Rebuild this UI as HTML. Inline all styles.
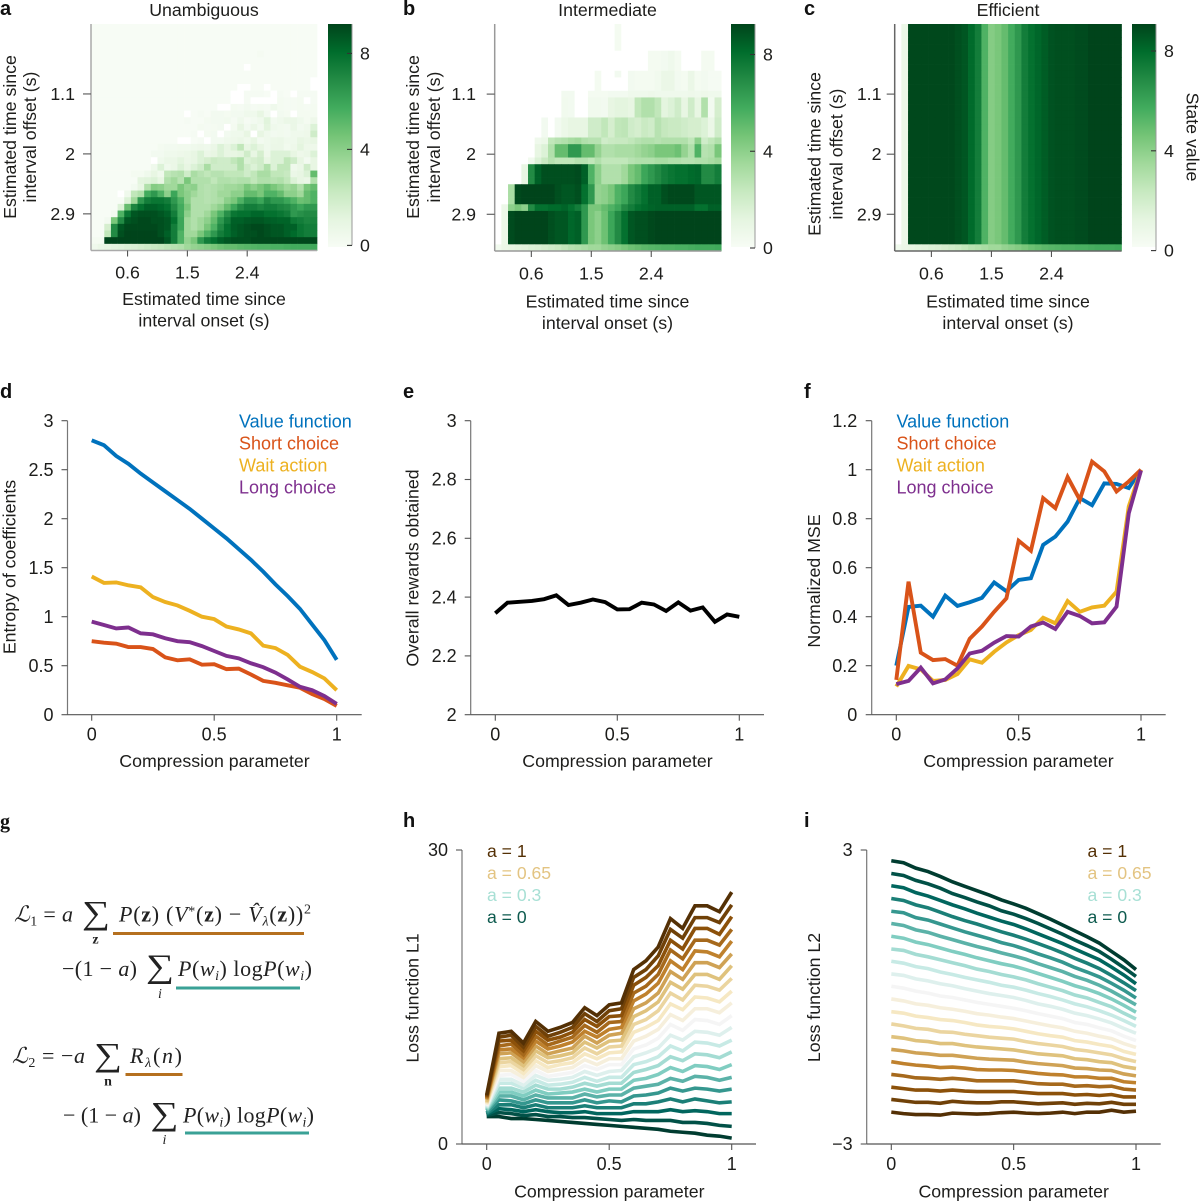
<!DOCTYPE html>
<html lang="en">
<head>
<meta charset="utf-8">
<title>State value maps, entropy, MSE and loss vs compression parameter</title>
<style>
html,body{margin:0;padding:0;background:#fff;}
svg{display:block;}
text{font-family:"Liberation Sans",sans-serif;fill:#1d1d1b;font-size:17.75px;}
.lab{font-weight:700;font-size:20px;fill:#111;}
.m,.m text{font-family:"Liberation Serif","DejaVu Serif",serif;font-size:22px;fill:#222;}
.i{font-style:italic;}
.b{font-weight:700;}
.m text.sum{font-family:"Liberation Serif","DejaVu Serif",serif;font-size:33px;fill:#222;}
.m text.lim{font-family:"Liberation Serif","DejaVu Serif",serif;font-size:14px;fill:#222;}
.leg{font-size:18px;}
.leg2{font-size:17.6px;}
</style>
</head>
<body>
<svg id="fig" xmlns="http://www.w3.org/2000/svg" width="1200" height="1202" viewBox="0 0 1200 1202">
<defs>
<linearGradient id="greens" x1="0" y1="1" x2="0" y2="0">
<stop offset="0" stop-color="#f7fcf5"/><stop offset="0.125" stop-color="#e5f5e0"/><stop offset="0.25" stop-color="#c7e9c0"/><stop offset="0.375" stop-color="#a1d99b"/><stop offset="0.5" stop-color="#74c476"/><stop offset="0.625" stop-color="#41ab5d"/><stop offset="0.75" stop-color="#238b45"/><stop offset="0.875" stop-color="#006d2c"/><stop offset="1" stop-color="#00441b"/>
</linearGradient>
</defs>

<g id="panel-a">
<text class="lab" x="0" y="15">a</text>
<text x="204" y="16" text-anchor="middle">Unambiguous</text>
<text transform="translate(16,137) rotate(-90)" text-anchor="middle">Estimated time since</text>
<text transform="translate(36,137) rotate(-90)" text-anchor="middle">interval offset (s)</text>
<text x="204" y="305" text-anchor="middle">Estimated time since</text>
<text x="204" y="326.5" text-anchor="middle">interval onset (s)</text>
</g>
<g id="panel-b">
<text class="lab" x="403" y="15">b</text>
<text x="607.5" y="16" text-anchor="middle">Intermediate</text>
<text transform="translate(419,137) rotate(-90)" text-anchor="middle">Estimated time since</text>
<text transform="translate(440,137) rotate(-90)" text-anchor="middle">interval offset (s)</text>
<text x="607.5" y="307.5" text-anchor="middle">Estimated time since</text>
<text x="607.5" y="329" text-anchor="middle">interval onset (s)</text>
</g>
<g id="panel-c">
<text class="lab" x="804" y="15">c</text>
<text x="1008" y="16" text-anchor="middle">Efficient</text>
<text transform="translate(820.5,154) rotate(-90)" text-anchor="middle">Estimated time since</text>
<text transform="translate(842.5,154) rotate(-90)" text-anchor="middle">interval offset (s)</text>
<text x="1008" y="307.5" text-anchor="middle">Estimated time since</text>
<text x="1008" y="329" text-anchor="middle">interval onset (s)</text>
<text transform="translate(1186.5,137) rotate(90)" text-anchor="middle">State value</text>
</g>

<g id="panel-d">
<text class="lab" x="0" y="398">d</text>
<text transform="translate(15.5,567) rotate(-90)" text-anchor="middle">Entropy of coefficients</text>
<text x="214.5" y="767" text-anchor="middle">Compression parameter</text>
<text class="leg" x="239" y="427.5" style="fill:#0072bd">Value function</text>
<text class="leg" x="239" y="449.5" style="fill:#d95319">Short choice</text>
<text class="leg" x="239" y="471.5" style="fill:#edb120">Wait action</text>
<text class="leg" x="239" y="493.5" style="fill:#7e2f8e">Long choice</text>
</g>
<g id="panel-e">
<text class="lab" x="403" y="398">e</text>
<text transform="translate(418.5,568) rotate(-90)" text-anchor="middle">Overall rewards obtained</text>
<text x="617.5" y="767" text-anchor="middle">Compression parameter</text>
</g>
<g id="panel-f">
<text class="lab" x="804" y="398">f</text>
<text transform="translate(820,581) rotate(-90)" text-anchor="middle">Normalized MSE</text>
<text x="1018.5" y="767" text-anchor="middle">Compression parameter</text>
<text class="leg" x="896.5" y="427.5" style="fill:#0072bd">Value function</text>
<text class="leg" x="896.5" y="449.5" style="fill:#d95319">Short choice</text>
<text class="leg" x="896.5" y="471.5" style="fill:#edb120">Wait action</text>
<text class="leg" x="896.5" y="493.5" style="fill:#7e2f8e">Long choice</text>
</g>

<g id="panel-g">
<text class="lab" x="0" y="828" style="font-family:'Liberation Serif',serif">g</text>
<g class="m">
<text x="14" y="921.5" textLength="59"><tspan class="i">ℒ</tspan><tspan dy="4" font-size="14">1</tspan><tspan dy="-4"> = </tspan><tspan class="i">a</tspan></text>
<text class="sum" x="82" y="923.5" textLength="28" lengthAdjust="spacingAndGlyphs">∑</text>
<text class="lim b" x="95.5" y="943.5" text-anchor="middle">z</text>
<text x="119" y="921.5" textLength="192"><tspan class="i">P</tspan>(<tspan class="b">z</tspan>) (<tspan class="i">V</tspan><tspan dy="-6" font-size="14">*</tspan><tspan dy="6">(</tspan><tspan class="b">z</tspan>) − <tspan class="i">V̂</tspan><tspan class="i" dy="4" font-size="14">λ</tspan><tspan dy="-4">(</tspan><tspan class="b">z</tspan>))<tspan dy="-8" font-size="14">2</tspan></text>
<rect x="113" y="932" width="191" height="3" fill="#b5701f"/>
<text x="62" y="976" textLength="75">−(1 − <tspan class="i">a</tspan>)</text>
<text class="sum" x="146" y="977" textLength="28" lengthAdjust="spacingAndGlyphs">∑</text>
<text class="lim i" x="160" y="998" text-anchor="middle">i</text>
<text x="178" y="976" textLength="134"><tspan class="i">P</tspan>(<tspan class="i">w</tspan><tspan class="i" dy="4" font-size="14">i</tspan><tspan dy="-4">) log</tspan><tspan class="i">P</tspan>(<tspan class="i">w</tspan><tspan class="i" dy="4" font-size="14">i</tspan><tspan dy="-4">)</tspan></text>
<rect x="176" y="986.5" width="124" height="3" fill="#3aa196"/>
</g>
<g class="m">
<text x="12" y="1063" textLength="73"><tspan class="i">ℒ</tspan><tspan dy="4" font-size="14">2</tspan><tspan dy="-4"> = −</tspan><tspan class="i">a</tspan></text>
<text class="sum" x="94" y="1065.5" textLength="28" lengthAdjust="spacingAndGlyphs">∑</text>
<text class="lim b" x="108" y="1085.5" text-anchor="middle">n</text>
<text x="130" y="1063" textLength="52"><tspan class="i">R</tspan><tspan class="i" dy="4" font-size="14">λ</tspan><tspan dy="-4">(</tspan><tspan class="i">n</tspan>)</text>
<rect x="125.5" y="1073" width="57" height="3" fill="#b5701f"/>
<text x="63" y="1122.5" textLength="78">− (1 − <tspan class="i">a</tspan>)</text>
<text class="sum" x="150.5" y="1124.5" textLength="28" lengthAdjust="spacingAndGlyphs">∑</text>
<text class="lim i" x="164.5" y="1144" text-anchor="middle">i</text>
<text x="183" y="1122.5" textLength="131"><tspan class="i">P</tspan>(<tspan class="i">w</tspan><tspan class="i" dy="4" font-size="14">i</tspan><tspan dy="-4">) log</tspan><tspan class="i">P</tspan>(<tspan class="i">w</tspan><tspan class="i" dy="4" font-size="14">i</tspan><tspan dy="-4">)</tspan></text>
<rect x="185" y="1131.5" width="124" height="3" fill="#3aa196"/>
</g>
</g>

<g id="panel-h">
<text class="lab" x="403" y="827">h</text>
<text transform="translate(418.5,998) rotate(-90)" text-anchor="middle">Loss function L1</text>
<text x="609.3" y="1197.5" text-anchor="middle">Compression parameter</text>
<text class="leg2" x="487" y="857" style="fill:#543005">a = 1</text>
<text class="leg2" x="487" y="879" style="fill:#e3c482">a = 0.65</text>
<text class="leg2" x="487" y="901" style="fill:#a8e0d5">a = 0.3</text>
<text class="leg2" x="487" y="923" style="fill:#0d5a4e">a = 0</text>
</g>
<g id="panel-i">
<text class="lab" x="804" y="827">i</text>
<text transform="translate(820,997.5) rotate(-90)" text-anchor="middle">Loss function L2</text>
<text x="1013.7" y="1197.5" text-anchor="middle">Compression parameter</text>
<text class="leg2" x="1087.5" y="857" style="fill:#543005">a = 1</text>
<text class="leg2" x="1087.5" y="879" style="fill:#e3c482">a = 0.65</text>
<text class="leg2" x="1087.5" y="901" style="fill:#a8e0d5">a = 0.3</text>
<text class="leg2" x="1087.5" y="923" style="fill:#0d5a4e">a = 0</text>
</g>
</svg>

<script>
/* ===== Data: heatmaps. Rows are right-aligned: a short row is padded on the left with the panel background. -1 = white cell. ===== */
const heatOnsetTicks = [0.6, 1.5, 2.4];
const heatOnsetLabels = ['0.6', '1.5', '2.4'];
const heatOffsetTicks = [1.1, 2, 2.9];
const heatOffsetLabels = ['1.1', '2', '2.9'];
const colorbarTicks = [8, 4, 0];
const colorbarLabels = ['8', '4', '0'];

const heatUnambiguous = [
[],[],[],[],
[.15,0,0,0,0,0,0,0,0],
[],
[-1,0,0,0,0,0,0,0,0,0,0],
[],
[-1],
[-1,-1,0,0,-1,0,0,0,0,0,0,-1],
[-1,-1,.1,.1,.1,0,-1,.1,0,-1,.1,.1,.1],
[-1,-1,.1,-1,-1,-1,-1,.2,.1,.1,.2,-1,.1],
[-1,-1,.2,.1,.3,.1,.2,.1,.5,.2,.1,.1,.2,.1,.2],
[-1,0,.1,0,.3,.3,.2,.3,.3,.5,.5,1,.3,-1,.3,.2,-1,.2,.2,.2],
[.1,0,0,.2,.3,.3,.4,.1,.5,.1,.3,.5,1.3,.3,.5,.8,.8,.5,.2,.6],
[.2,.1,.2,.3,-1,.2,1,.3,.8,.3,1.2,.5,.4,.3,.8,.3,.5,1.5],
[.1,-1,.2,.3,-1,.3,.5,.5,1,-1,1,.5,.3,.4,.3,.5,.5,.6,2],
[-1,-1,0,.1,-1,.3,.3,.5,.6,.8,.5,1,.3,.5,.7,.8,.5,.5,1,.8,1],
[.2,.3,.3,.4,.4,.5,.6,.5,.8,1.5,1,1.5,2.5,1,1.5,1,.5,.8,.8,.4,.6,1.2,.6,.6],
[.3,.3,.5,.5,.6,.7,1,1.5,.8,1,1.5,1,1,1.2,2,1,1.8,.6,1.5,1.5,1.5,1,.6,.8,1.5],
[-1,.5,.8,.8,1.2,.8,1,1.5,1.8,2.2,2,2,2.5,3,1.5,1.8,2,1,1.5,1.5,2.5,2,1,.3,1],
[.5,1.5,.5,.8,1.5,1,1.5,2,3.2,2,2,2,2,3,2,1.5,2,3,1.5,2.5,2.5,.5,.8,2,1],
[.2,.2,.5,1,.5,2.5,2.8,3,2,3.2,2.8,2.5,2.8,2.8,2.5,2.5,2.5,2,2.5,3.2,3.2,2.5,2.5,2.3,.8,1,1.5,5],
[1.2,1.3,1.5,1,3,3.5,2.8,4.5,3,3,3,2.5,3,3,2.8,3,3,2.5,3,3,2.8,3,2.5,1.5,1,.8,3],
[.3,1,3,4.2,4,3.5,3.5,4.5,3.8,4,3,2.8,3,3.2,3.5,3.5,3.7,4.5,4,4.5,5,4.5,4,3.5,3.8,3,4.5,5],
[-1,.5,2.5,3,5.8,6.5,5.5,4,6,4.5,4,3.5,3,2.8,3,3.5,3.5,4,4,5,5,4.5,5.5,5.5,5,4,4,3.5,5,5.5],
[1.5,3.5,6.5,7.5,7.8,7.8,7.5,6.5,5.5,4,3,3,2.8,3,3.2,4,4.5,5.5,6.5,6.5,6,7,6.5,6.5,6,5.5,4.8,5,5.5],
[1.5,5,7.2,8,8.5,8.5,8.3,8,7,5.8,4.5,3,3,3,3.5,4,5,6,7,7.5,7.5,7.2,7.5,7.5,7.2,7,6.5,6,6.5,6.5],
[.3,5.5,7.8,8.8,9,9,9,8.8,8.5,7.5,5.8,4,3,3,3.5,4.5,5.5,6.8,7.8,8,8,8.3,8.3,8,8,7.8,7.5,6.5,6.8,7,7],
[.3,4.5,7,8.8,9,9.2,9.2,9,9,8.8,8,6,3.5,3,3.5,4,5,6.5,7.5,8.5,8.5,8.7,8.8,8.8,8.6,8.5,8.4,8.4,7.7,7.5,7.2,7.3],
[1.8,7,8.8,9.2,9.2,9.2,9.2,9.2,9,8.8,7.5,6,3.5,3,3.5,4.5,5.5,7,8,8.6,8.8,9,9.2,9.2,9,8.8,8.8,8.5,8.5,7.8,7.5,7.5],
[2.5,7,9,9.3,9.3,9.3,9.3,9.3,9,8.5,7.5,5.5,3.5,3.5,4.5,5.5,6.5,7.5,8,8.5,8.8,9,9,9.2,9,8.8,8.8,8.5,8.2,7.8,7.5,7.5],
[.2,.2,9.3,9.3,9.3,9.3,9.3,9.3,9.3,9.3,9.3,8.8,7.5,5.5,3.8,4.5,6.5,7.5,8,8.5,8.8,9,9,9,9.2,9.2,9.2,9.2,9.2,9.2,9.2,9.2,9.2,9.2],
[.5,.8,1,1.2,1.3,1.5,1.6,1.8,2,2.2,2.4,2.6,2.8,3,3.5,3.8,4,4.2,4.5,4.8,5,5,5.2,5.3,5.4,5.5,5.5,5.6,5.6,5.7,5.8,5.8,5.8,5.9]
];

const intermBand0 = [.2,-1,-1,-1,-1,-1,-1,-1,-1,-1,-1,-1,-1,-1,-1,-1];
const intermBand1 = [.2,.2,.3,.5,.2,-1,-1,-1,.2,.2,-1];
const intermRow7 = [.2,-1,-1,.3,-1,.3,.2,.2,.2,.4,.8,.8,.3,.2,.8,.2,.3,.1,.1];
const intermBand2 = [.2,-1,-1,-1,-1,.3,.2,.2,.2,.4,.8,.8,.3,.2,.8,.2,.3,.1,.1];
const intermRow10 = [.3,.3,-1,-1,.2,.2,.2,.3,.3,.3,.5,.5,.5,.6,.5,.5,.5,.5,.5,.6,.5,.6,.5,.5];
const intermBand3 = [.4,.3,-1,-1,.4,.4,.3,1,1.2,1.2,1,2.5,3,3,2.5,1.2,1.5,2,1,2,1,3,.3,1.8];
const intermBand4 = [.3,-1,.3,.7,1,1,1,2,2,2.5,1.8,2.5,2.6,2,1.8,2.2,2,2.8,2.4,2.2,2.2,2,1.8,1.8,1.5,.8,2];
const intermRow17 = [.5,.7,2.5,2.8,3,3.3,3.5,3,2.8,2.8,2,2.2,2.3,2.3,2.5,2.8,3,3,2.8,3,3,3,3,2.5,4,2,2.5,3];
const intermBand5 = [1,1.5,3,5,5,6.5,6.5,5,5,3.8,3,3,3.2,3.2,3.2,3.5,3.8,4,4.5,4.5,4.5,4.8,3.8,3,5.5,2.8,3,4.5];
const intermRow20 = [.4,1.5,2.2,2.8,2.5,2.5,2.5,2.8,2.8,2.5,3,2.5,2.5,2.5,2.5,2.8,3,3,3,3.2,3.2,3,3,2.8,2.8,3,3,3.2,3.5];
const intermBand6 = [1,7,8.5,9,9,9,9,9,9.1,8.5,5.5,4,3,3,3,3.5,4.5,5,6,6.5,7,7.5,7.8,8,8,8.2,8.3,7,7,7.5];
const intermBand7 = [3.2,9.2,9.3,9.3,9.3,9.3,9.3,9,8.8,8.8,9,8,6.5,3.8,4,4.5,5.5,6,7,7.5,8,8.5,8.5,9,9.2,9.2,9.2,9.2,8.8,8.8,8.8,8.8];
const intermRow27 = [.7,4,4.5,4,7,8,8,8.2,8.2,8.4,8,7.5,6.5,4.5,4.5,5,5.5,6,7,7.5,8,8.2,8.4,8.5,8.5,8.5,8.5,8.5,8.5,8,8,8.5,8.5];
const intermBand8 = [.7,9.1,9.3,9.3,9.3,9.3,9.3,9,8.8,8.8,8.3,8.5,6.5,4.5,4,4.8,6,7,8,8.8,9,9,9.2,9.3,9.3,9.3,9.3,9.3,9.3,9.3,9.3,9.3,9.3];
const intermRow33 = [.4,.8,1,1.2,1.3,1.5,1.6,1.8,2,2.2,2.5,2.8,3,3.2,3.5,3.5,3.8,4,4.2,4.5,4.8,5,5.2,5.3,5.4,5.5,5.5,5.6,5.6,5.7,5.8,5.8,5.8,5.9];
const heatIntermediate = [intermBand0,intermBand0,intermBand0,intermBand0,intermBand1,intermBand1,intermBand1,intermRow7,intermBand2,intermBand2,intermRow10,intermBand3,intermBand3,intermBand3,intermBand4,intermBand4,intermBand4,intermRow17,intermBand5,intermBand5,intermRow20,intermBand6,intermBand6,intermBand6,intermBand7,intermBand7,intermBand7,intermRow27,intermBand8,intermBand8,intermBand8,intermBand8,intermBand8,intermRow33];

const efficientRow = [-1,.7,9.2,9.2,9.2,9.2,9.2,9.2,9.2,9,8.8,8.2,7.5,5.5,4.2,4.5,5,5.8,6.5,7.5,8,8.3,8.6,8.9,9,9,9,9.1,9.1,9.3,9.3,9.3,9.3,9.3];
const efficientBottomRow = [.5,.8,1,1.2,1.3,1.5,1.6,1.8,2,2.2,2.5,2.8,3,3.2,3.5,3.5,3.8,4,4.2,4.5,4.8,5,5.2,5.3,5.4,5.5,5.5,5.6,5.6,5.7,5.8,5.8,5.8,5.9];
const heatEfficient = [efficientRow,efficientRow,efficientRow,efficientRow,efficientRow,efficientRow,efficientRow,efficientRow,efficientRow,efficientRow,efficientRow,efficientRow,efficientRow,efficientRow,efficientRow,efficientRow,efficientRow,efficientRow,efficientRow,efficientRow,efficientRow,efficientRow,efficientRow,efficientRow,efficientRow,efficientRow,efficientRow,efficientRow,efficientRow,efficientRow,efficientRow,efficientRow,efficientRow,efficientBottomRow];

/* ===== Data: line charts ===== */
const compressionValues = [0,.05,.1,.15,.2,.25,.3,.35,.4,.45,.5,.55,.6,.65,.7,.75,.8,.85,.9,.95,1];
const compressionTicks = [0, 0.5, 1];
const compressionLabels = ['0', '0.5', '1'];

const entropyTicks = [0, .5, 1, 1.5, 2, 2.5, 3];
const entropyLabels = ['0', '0.5', '1', '1.5', '2', '2.5', '3'];
const entropyValue = [2.80,2.75,2.64,2.56,2.46,2.37,2.28,2.19,2.10,2.00,1.90,1.80,1.69,1.58,1.46,1.33,1.21,1.08,.92,.76,.56];
const entropyShort = [.75,.735,.725,.69,.69,.67,.585,.555,.565,.51,.515,.465,.47,.41,.345,.325,.30,.275,.21,.16,.09];
const entropyWait = [1.41,1.345,1.35,1.32,1.30,1.20,1.15,1.115,1.06,1.0,.975,.90,.87,.83,.705,.68,.61,.49,.435,.37,.25];
const entropyLong = [.95,.915,.88,.89,.83,.82,.78,.75,.74,.70,.65,.60,.575,.525,.485,.43,.36,.285,.25,.19,.11];

const rewardTicks = [2, 2.2, 2.4, 2.6, 2.8, 3];
const rewardLabels = ['2', '2.2', '2.4', '2.6', '2.8', '3'];
const rewardValues = [2.345,2.381,2.384,2.387,2.393,2.406,2.373,2.381,2.392,2.383,2.358,2.359,2.381,2.375,2.353,2.382,2.354,2.365,2.316,2.341,2.333];

const mseTicks = [0, .2, .4, .6, .8, 1, 1.2];
const mseLabels = ['0', '0.2', '0.4', '0.6', '0.8', '1', '1.2'];
const mseValue = [.20,.44,.445,.40,.486,.444,.459,.477,.54,.504,.55,.557,.693,.727,.788,.884,.855,.944,.942,.925,1];
const mseShort = [.142,.543,.253,.223,.227,.20,.31,.36,.42,.475,.71,.669,.884,.843,.97,.877,1.033,.993,.911,.952,1];
const mseWait = [.115,.199,.185,.138,.142,.166,.226,.212,.257,.295,.325,.346,.396,.373,.464,.42,.438,.445,.502,.85,1];
const mseLong = [.125,.138,.192,.128,.144,.189,.25,.261,.294,.321,.319,.36,.376,.35,.42,.403,.373,.377,.441,.822,.997];

/* Loss values: one row per compression value, each row listing a = 0, 0.05, ... 1 */
const lossL1Ticks = [0, 30];
const lossL1Labels = ['0', '30'];
const lossL1ByCompression = [
[2.8,2.9,3.0,3.1,3.2,3.4,3.5,3.6,3.7,3.8,3.9,4.0,4.1,4.2,4.3,4.5,4.6,4.7,4.8,4.9,5.0],
[2.8,3.2,3.6,4.0,4.5,4.9,5.3,5.7,6.2,6.6,7.0,7.5,7.9,8.3,8.7,9.2,9.6,10.0,10.5,10.9,11.3],
[2.6,3.1,3.5,4.0,4.4,4.9,5.3,5.7,6.2,6.6,7.1,7.5,8.0,8.4,8.8,9.3,9.7,10.2,10.6,11.1,11.5],
[2.6,2.9,3.3,3.7,4.1,4.5,4.9,5.3,5.7,6.0,6.4,6.8,7.2,7.6,8.0,8.4,8.8,9.1,9.5,9.9,10.3],
[2.5,3.0,3.5,4.0,4.5,5.0,5.5,6.0,6.5,7.0,7.5,8.0,8.5,9.0,9.5,10.0,10.5,11.0,11.5,12.0,12.5],
[2.4,2.8,3.3,3.7,4.2,4.7,5.1,5.6,6.0,6.5,6.9,7.4,7.8,8.3,8.8,9.2,9.7,10.1,10.6,11.0,11.5],
[2.3,2.8,3.2,3.7,4.2,4.7,5.2,5.6,6.1,6.6,7.1,7.6,8.1,8.5,9.0,9.5,10.0,10.5,10.9,11.4,11.9],
[2.2,2.7,3.2,3.7,4.2,4.7,5.3,5.8,6.3,6.8,7.3,7.8,8.3,8.8,9.3,9.8,10.4,10.9,11.4,11.9,12.4],
[2.1,2.7,3.3,3.9,4.5,5.1,5.6,6.2,6.8,7.4,8.0,8.6,9.2,9.8,10.4,11.0,11.5,12.1,12.7,13.3,13.9],
[2.0,2.6,3.1,3.7,4.2,4.8,5.3,5.9,6.4,7.0,7.6,8.1,8.7,9.2,9.8,10.3,10.9,11.4,12.0,12.5,13.1],
[1.9,2.5,3.1,3.7,4.4,5.0,5.6,6.2,6.8,7.4,8.1,8.7,9.3,9.9,10.5,11.1,11.7,12.4,13.0,13.6,14.2],
[1.8,2.4,3.1,3.7,4.3,5.0,5.6,6.2,6.8,7.5,8.1,8.7,9.4,10.0,10.6,11.3,11.9,12.5,13.1,13.8,14.4],
[1.7,2.5,3.3,4.1,4.9,5.7,6.5,7.3,8.1,8.9,9.7,10.5,11.4,12.2,13.0,13.8,14.6,15.4,16.2,17.0,17.8],
[1.6,2.4,3.3,4.1,5.0,5.9,6.7,7.6,8.4,9.3,10.1,11.0,11.9,12.7,13.6,14.4,15.3,16.1,17.0,17.8,18.7],
[1.5,2.4,3.3,4.3,5.2,6.1,7.1,8.0,8.9,9.8,10.8,11.7,12.6,13.6,14.5,15.4,16.4,17.3,18.2,19.2,20.1],
[1.3,2.4,3.5,4.6,5.7,6.7,7.8,8.9,10.0,11.1,12.2,13.2,14.3,15.4,16.5,17.6,18.7,19.8,20.8,21.9,23.0],
[1.2,2.2,3.3,4.3,5.4,6.4,7.4,8.5,9.5,10.6,11.6,12.6,13.7,14.7,15.8,16.8,17.8,18.9,19.9,21.0,22.0],
[1.1,2.2,3.4,4.6,5.7,6.9,8.0,9.2,10.4,11.5,12.7,13.8,15.0,16.2,17.3,18.5,19.7,20.8,22.0,23.1,24.3],
[.9,2.1,3.3,4.4,5.6,6.8,7.9,9.1,10.3,11.4,12.6,13.8,14.9,16.1,17.3,18.5,19.6,20.8,22.0,23.1,24.3],
[.8,1.9,3.1,4.2,5.4,6.5,7.6,8.8,10.0,11.1,12.2,13.4,14.5,15.7,16.8,18.0,19.1,20.3,21.4,22.6,23.7],
[.6,1.8,3.1,4.3,5.6,6.8,8.1,9.4,10.6,11.9,13.1,14.4,15.6,16.9,18.2,19.4,20.7,21.9,23.2,24.4,25.7]
];

const lossL2Ticks = [-3, 3];
const lossL2Labels = ['−3', '3'];
const lossL2ByCompression = [
[2.78,2.52,2.27,2.01,1.75,1.50,1.24,.98,.73,.47,.22,-.04,-.30,-.55,-.81,-1.07,-1.32,-1.58,-1.84,-2.09,-2.35],
[2.74,2.48,2.23,1.97,1.72,1.46,1.20,.95,.69,.44,.18,-.08,-.33,-.59,-.84,-1.10,-1.36,-1.61,-1.87,-2.12,-2.38],
[2.63,2.38,2.13,1.88,1.62,1.37,1.12,.87,.62,.37,.12,-.14,-.39,-.64,-.89,-1.14,-1.39,-1.65,-1.90,-2.15,-2.40],
[2.56,2.31,2.06,1.82,1.57,1.32,1.07,.82,.58,.33,.08,-.17,-.42,-.66,-.91,-1.16,-1.41,-1.66,-1.90,-2.15,-2.40],
[2.46,2.22,1.97,1.73,1.49,1.24,1.00,.76,.51,.27,.02,-.22,-.46,-.71,-.95,-1.19,-1.44,-1.68,-1.92,-2.17,-2.41],
[2.35,2.11,1.88,1.64,1.41,1.17,.93,.70,.46,.23,-.01,-.25,-.48,-.72,-.95,-1.19,-1.43,-1.66,-1.90,-2.13,-2.37],
[2.26,2.03,1.80,1.56,1.33,1.10,.87,.64,.40,.17,-.06,-.29,-.52,-.76,-.99,-1.22,-1.45,-1.68,-1.92,-2.15,-2.38],
[2.17,1.94,1.71,1.49,1.26,1.03,.80,.57,.35,.12,-.11,-.34,-.57,-.79,-1.02,-1.25,-1.48,-1.71,-1.93,-2.16,-2.39],
[2.08,1.86,1.63,1.41,1.19,.97,.74,.52,.30,.07,-.15,-.37,-.60,-.82,-1.04,-1.27,-1.49,-1.71,-1.93,-2.16,-2.38],
[1.98,1.76,1.55,1.33,1.11,.90,.68,.46,.24,.03,-.19,-.41,-.62,-.84,-1.06,-1.28,-1.49,-1.71,-1.93,-2.14,-2.36],
[1.90,1.69,1.48,1.26,1.05,.84,.63,.41,.20,-.01,-.23,-.44,-.65,-.86,-1.08,-1.29,-1.50,-1.71,-1.93,-2.14,-2.35],
[1.81,1.60,1.39,1.18,.97,.77,.56,.35,.14,-.07,-.28,-.49,-.70,-.91,-1.12,-1.33,-1.53,-1.74,-1.95,-2.16,-2.37],
[1.70,1.50,1.29,1.09,.88,.68,.48,.27,.07,-.14,-.34,-.54,-.75,-.95,-1.16,-1.36,-1.56,-1.77,-1.97,-2.18,-2.38],
[1.59,1.39,1.19,1.00,.80,.60,.40,.20,.01,-.19,-.39,-.59,-.79,-.98,-1.18,-1.38,-1.58,-1.78,-1.97,-2.17,-2.37],
[1.47,1.28,1.09,.90,.71,.52,.32,.13,-.06,-.25,-.44,-.63,-.82,-1.01,-1.20,-1.40,-1.59,-1.78,-1.97,-2.16,-2.35],
[1.35,1.16,.98,.79,.60,.42,.23,.04,-.14,-.33,-.52,-.70,-.89,-1.07,-1.26,-1.45,-1.63,-1.82,-2.00,-2.19,-2.38],
[1.23,1.05,.87,.69,.51,.34,.16,-.02,-.20,-.38,-.56,-.74,-.92,-1.10,-1.28,-1.46,-1.63,-1.81,-1.99,-2.17,-2.35],
[1.10,.93,.76,.58,.41,.24,.07,-.11,-.28,-.45,-.63,-.80,-.97,-1.14,-1.32,-1.49,-1.66,-1.83,-2.01,-2.18,-2.35],
[.93,.77,.61,.44,.28,.12,-.04,-.20,-.37,-.53,-.69,-.85,-1.01,-1.18,-1.34,-1.50,-1.66,-1.82,-1.99,-2.15,-2.31],
[.76,.60,.45,.29,.14,-.02,-.17,-.33,-.48,-.64,-.80,-.95,-1.11,-1.26,-1.42,-1.57,-1.73,-1.88,-2.04,-2.19,-2.35],
[.56,.42,.27,.13,-.02,-.16,-.31,-.45,-.60,-.74,-.89,-1.03,-1.17,-1.32,-1.46,-1.61,-1.75,-1.90,-2.04,-2.19,-2.33]
];
const lossWeights = [0,.05,.1,.15,.2,.25,.3,.35,.4,.45,.5,.55,.6,.65,.7,.75,.8,.85,.9,.95,1];

/* ===== Rendering ===== */
const NS = 'http://www.w3.org/2000/svg';
const GREENS = ['#f7fcf5','#e5f5e0','#c7e9c0','#a1d99b','#74c476','#41ab5d','#238b45','#006d2c','#00441b'];
const BRBG = ['#003c30','#01665e','#35978f','#80cdc1','#c7eae5','#f5f5f5','#f6e8c3','#dfc27d','#bf812d','#8c510a','#543005'];
const HEAT_MAX = 9.3;
const GRID = 34;

function hexRgb(h){return [parseInt(h.slice(1,3),16),parseInt(h.slice(3,5),16),parseInt(h.slice(5,7),16)];}
function ramp(stops,t){
  const p=Math.max(0,Math.min(1,t))*(stops.length-1);
  const i=Math.min(Math.floor(p),stops.length-2);
  const f=p-i;
  const a=hexRgb(stops[i]);
  const b=hexRgb(stops[i+1]);
  return 'rgb('+a.map((v,k)=>Math.round(v+(b[k]-v)*f)).join(',')+')';
}
function greenColor(v){return v<0?'#ffffff':ramp(GREENS,v/HEAT_MAX);}

function mark(tag,parent,attrs,name){
  const el=document.createElementNS(NS,tag);
  for(const k in attrs){el.setAttribute(k,attrs[k]);}
  
  
  parent.appendChild(el);
  return el;
}
function label(parent,x,y,text,anchor,size,name){
  const el=mark('text',parent,{x:x,y:y,'text-anchor':anchor,style:'font-size:'+size+'px'},name);
  el.textContent=text;
  return el;
}

function drawHeatPanel(id,cfg){
  const g=document.getElementById(id);
  const cw=cfg.w/GRID, ch=cfg.h/GRID;
  const xOf=v=>cfg.x+(v*10-0.5)*cw;
  const yOf=v=>cfg.y+(v*10-0.5)*ch;
  cfg.data.forEach((row,r)=>{
    const pad=GRID-row.length;
    for(let c=0;c<GRID;c++){
      const v=c<pad?cfg.bg:row[c-pad];
      mark('rect',g,{x:(cfg.x+c*cw).toFixed(2),y:(cfg.y+r*ch).toFixed(2),width:(cw+.35).toFixed(2),height:(ch+.35).toFixed(2),fill:greenColor(v)},'heatmap-cell');
    }
  });
  const bottom=cfg.y+cfg.h;
  mark('line',g,{x1:cfg.x,y1:cfg.y,x2:cfg.x,y2:bottom,stroke:cfg.spine,'stroke-width':1.5},'y-axis-line');
  mark('line',g,{x1:cfg.x,y1:bottom,x2:cfg.x+cfg.w,y2:bottom,stroke:cfg.spine,'stroke-width':1.5},'x-axis-line');
  heatOnsetTicks.forEach((v,i)=>{
    mark('line',g,{x1:xOf(v),y1:bottom,x2:xOf(v),y2:bottom+6,stroke:'#555','stroke-width':1.1},'x-tick');
    label(g,xOf(v),cfg.xLabelY,heatOnsetLabels[i],'middle',17.75,'x-tick-label');
  });
  heatOffsetTicks.forEach((v,i)=>{
    mark('line',g,{x1:cfg.x-8,y1:yOf(v),x2:cfg.x,y2:yOf(v),stroke:'#555','stroke-width':1.1},'y-tick');
    label(g,cfg.yLabelX,yOf(v)+6,heatOffsetLabels[i],'end',17.75,'y-tick-label');
  });
  mark('rect',g,{x:cfg.cbX,y:24,width:24,height:223,fill:'url(#greens)'},'colorbar');
  mark('line',g,{x1:cfg.cbX+24,y1:24,x2:cfg.cbX+24,y2:cfg.cbZero,stroke:'#999','stroke-width':1},'colorbar-edge');
  const unit=(cfg.cbZero-cfg.cbEight)/8;
  colorbarTicks.forEach((v,i)=>{
    const y=cfg.cbZero-v*unit;
    mark('line',g,{x1:cfg.cbX+19,y1:y,x2:cfg.cbX+24,y2:y,stroke:'#333','stroke-width':1.1},'colorbar-tick');
    label(g,cfg.cbX+32,y+6,colorbarLabels[i],'start',17.75,'colorbar-tick-label');
  });
}

drawHeatPanel('panel-a',{x:91,y:24,w:226,h:226.5,data:heatUnambiguous,bg:0,spine:'#aaa',xLabelY:278.5,yLabelX:75,cbX:328,cbZero:245.4,cbEight:53.4});
drawHeatPanel('panel-b',{x:494.7,y:24,w:226.5,h:227,data:heatIntermediate,bg:-1,spine:'#999',xLabelY:279.5,yLabelX:476,cbX:731,cbZero:248,cbEight:54.5});
drawHeatPanel('panel-c',{x:894.7,y:24,w:226.8,h:227,data:heatEfficient,bg:-1,spine:'#666',xLabelY:279.5,yLabelX:881.5,cbX:1132,cbZero:250.6,cbEight:51});

function makeAxes(id,cfg){
  const g=document.getElementById(id);
  const xOf=v=>cfg.x0+v*(cfg.x1-cfg.x0);
  const yOf=v=>cfg.yBottom-(v-cfg.yMin)/(cfg.yMax-cfg.yMin)*(cfg.yBottom-cfg.yTop);
  mark('line',g,{x1:cfg.axisX,y1:cfg.yTop,x2:cfg.axisX,y2:cfg.yBottom,stroke:'#777','stroke-width':1.2},'y-axis-line');
  mark('line',g,{x1:cfg.axisX,y1:cfg.yBottom,x2:cfg.axisEnd,y2:cfg.yBottom,stroke:'#555','stroke-width':1.2},'x-axis-line');
  compressionTicks.forEach((v,i)=>{
    mark('line',g,{x1:xOf(v),y1:cfg.yBottom,x2:xOf(v),y2:cfg.yBottom+6,stroke:'#555','stroke-width':1.1},'x-tick');
    label(g,xOf(v),cfg.yBottom+26,compressionLabels[i],'middle',18,'x-tick-label');
  });
  cfg.ticks.forEach((v,i)=>{
    mark('line',g,{x1:cfg.axisX-6,y1:yOf(v),x2:cfg.axisX,y2:yOf(v),stroke:'#555','stroke-width':1.1},'y-tick');
    label(g,cfg.labelX,yOf(v)+6.2,cfg.labels[i],'end',18,'y-tick-label');
  });
  return {g:g,xOf:xOf,yOf:yOf};
}
function drawSeries(ax,values,color,width,name){
  const pts=compressionValues.map((x,i)=>ax.xOf(x).toFixed(2)+','+ax.yOf(values[i]).toFixed(2)).join(' ');
  mark('polyline',ax.g,{points:pts,fill:'none',stroke:color,'stroke-width':width,'stroke-linejoin':'miter','stroke-miterlimit':6},name);
}

const axD=makeAxes('panel-d',{x0:91.7,x1:336.7,axisX:67.5,axisEnd:361.7,yTop:420.7,yBottom:714.7,yMin:0,yMax:3,ticks:entropyTicks,labels:entropyLabels,labelX:53.5});
drawSeries(axD,entropyValue,'#0072bd',3.9,'line-value-function');
drawSeries(axD,entropyWait,'#edb120',3.9,'line-wait-action');
drawSeries(axD,entropyShort,'#d95319',3.9,'line-short-choice');
drawSeries(axD,entropyLong,'#7e2f8e',3.9,'line-long-choice');

const axE=makeAxes('panel-e',{x0:495.3,x1:739.3,axisX:470.7,axisEnd:764,yTop:420.7,yBottom:714.7,yMin:2,yMax:3,ticks:rewardTicks,labels:rewardLabels,labelX:456.7});
drawSeries(axE,rewardValues,'#000',3.9,'line-overall-rewards');

const axF=makeAxes('panel-f',{x0:896.3,x1:1141,axisX:871.7,axisEnd:1165.7,yTop:420.7,yBottom:714.7,yMin:0,yMax:1.2,ticks:mseTicks,labels:mseLabels,labelX:857.3});
drawSeries(axF,mseValue,'#0072bd',3.9,'line-value-function');
drawSeries(axF,mseWait,'#edb120',3.9,'line-wait-action');
drawSeries(axF,mseShort,'#d95319',3.9,'line-short-choice');
drawSeries(axF,mseLong,'#7e2f8e',3.9,'line-long-choice');

const axH=makeAxes('panel-h',{x0:486.7,x1:731.7,axisX:462,axisEnd:756,yTop:850,yBottom:1144,yMin:0,yMax:30,ticks:lossL1Ticks,labels:lossL1Labels,labelX:448});
lossWeights.forEach((a,j)=>{
  drawSeries(axH,lossL1ByCompression.map(col=>col[j]),ramp(BRBG,a),3.6,'line-loss-l1');
});

const axI=makeAxes('panel-i',{x0:891.3,x1:1136,axisX:866.7,axisEnd:1160.7,yTop:850,yBottom:1144,yMin:-3,yMax:3,ticks:lossL2Ticks,labels:lossL2Labels,labelX:852.7});
lossWeights.forEach((a,j)=>{
  drawSeries(axI,lossL2ByCompression.map(col=>col[j]),ramp(BRBG,a),3.6,'line-loss-l2');
});
</script>
</body>
</html>
